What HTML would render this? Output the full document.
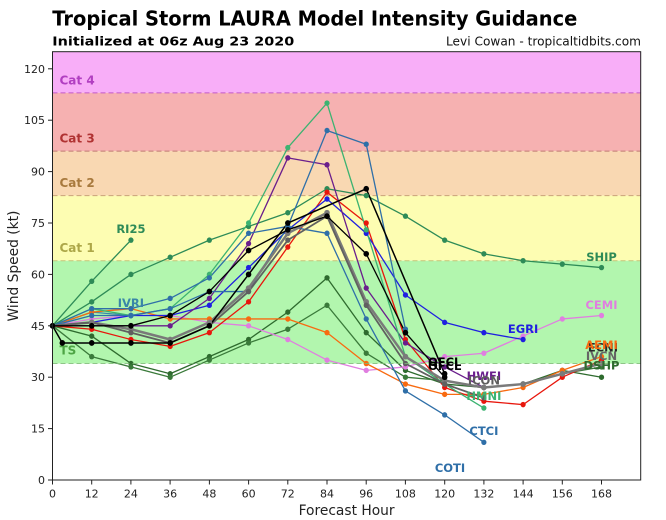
<!DOCTYPE html>
<html><head><meta charset="utf-8"><style>
html,body{margin:0;padding:0;background:#fff;}
svg{display:block;font-family:"DejaVu Sans","Liberation Sans",sans-serif;}
.sl{font-weight:bold;font-size:11.5px;text-anchor:middle;}
.tk{font-size:11px;}
</style></head><body>
<svg width="666" height="520" viewBox="0 0 666 520" xmlns="http://www.w3.org/2000/svg">
<rect x="0" y="0" width="666" height="520" fill="#fff"/>
<!-- bands -->
<rect x="52.5" y="51.7" width="588.2" height="41.12" fill="#f8aef8"/>
<rect x="52.5" y="92.82" width="588.2" height="58.25" fill="#f6b1b1"/>
<rect x="52.5" y="151.07" width="588.2" height="44.54" fill="#f9d8b2"/>
<rect x="52.5" y="195.61" width="588.2" height="65.1" fill="#fdfdb2"/>
<rect x="52.5" y="260.71" width="588.2" height="102.79" fill="#b2f6ae"/>
<g stroke-width="1" stroke-dasharray="5,3" fill="none">
<line x1="52.5" x2="640.7" y1="92.82" y2="92.82" stroke="#c25ac8"/>
<line x1="52.5" x2="640.7" y1="151.07" y2="151.07" stroke="#c07a74"/>
<line x1="52.5" x2="640.7" y1="195.61" y2="195.61" stroke="#c9a47a"/>
<line x1="52.5" x2="640.7" y1="260.71" y2="260.71" stroke="#c4c47a"/>
</g>
<g font-weight="bold" font-size="12px">
<text x="59.5" y="84.3" fill="#b13fc1">Cat 4</text>
<text x="59.5" y="142.3" fill="#b03232">Cat 3</text>
<text x="59.5" y="186.8" fill="#a87a3e">Cat 2</text>
<text x="59.5" y="251.9" fill="#ada748">Cat 1</text>
<text x="59.5" y="354.7" fill="#4da444">TS</text>
</g>
<!-- data -->
<g transform="translate(52.5,480) scale(3.268,-3.4264)">
<g fill="none" stroke-linejoin="round">
<polyline vector-effect="non-scaling-stroke" stroke="#2e8b57" stroke-width="1.3" points="0,45 12,52 24,60 36,65 48,70 60,74 72,78 84,85 96,83 108,77 120,70 132,66 144,64 156,63 168,62"/>
<polyline vector-effect="non-scaling-stroke" stroke="#2e8b57" stroke-width="1.3" points="0,45 12,58 24,70"/>
<polyline vector-effect="non-scaling-stroke" stroke="#3a86a8" stroke-width="1.3" points="0,45 12,49 24,48"/>
<polyline vector-effect="non-scaling-stroke" stroke="#2e6b2e" stroke-width="1.3" points="0,45 12,42 24,34 36,31 48,36 60,41 72,49 84,59 96,43 108,32 120,28 132,27 144,28 156,32 168,30"/>
<polyline vector-effect="non-scaling-stroke" stroke="#3a7a3a" stroke-width="1.3" points="0,45 12,36 24,33 36,30 48,35 60,40 72,44 84,51 96,37 108,30 120,29 132,27 144,28 156,31 168,33"/>
<polyline vector-effect="non-scaling-stroke" stroke="#e07ee0" stroke-width="1.3" points="0,45 12,47 24,48 36,48 48,46 60,45 72,41 84,35 96,32 108,33 120,36 132,37 144,42 156,47 168,48"/>
<polyline vector-effect="non-scaling-stroke" stroke="#f86a10" stroke-width="1.3" points="0,45 12,49 24,50 36,47 48,47 60,47 72,47 84,43 96,34 108,28 120,25 132,25 144,27 156,32 168,36"/>
<polyline vector-effect="non-scaling-stroke" stroke="#e8160c" stroke-width="1.3" points="0,45 12,44 24,41 36,39 48,43 60,52 72,68 84,84 96,75 108,41 120,27 132,23 144,22 156,30 168,35"/>
<polyline vector-effect="non-scaling-stroke" stroke="#1f1fe0" stroke-width="1.3" points="0,45 12,46 24,48 36,48 48,51 60,62 72,73 84,82 96,72 108,54 120,46 132,43 144,41"/>
<polyline vector-effect="non-scaling-stroke" stroke="#6a1e8c" stroke-width="1.3" points="0,45 12,45 24,45 36,45 48,53 60,69 72,94 84,92 96,56 108,40 120,33 132,27"/>
<polyline vector-effect="non-scaling-stroke" stroke="#3cb371" stroke-width="1.3" points="0,45 12,50 24,48 36,50 48,60 60,75 72,97 84,110 96,73 108,36 120,28 132,21"/>
<polyline vector-effect="non-scaling-stroke" stroke="#2f6fa8" stroke-width="1.3" points="0,45 12,50 24,50 36,53 48,59 60,72 72,74 84,102 96,98 108,44"/>
<polyline vector-effect="non-scaling-stroke" stroke="#2f6fa8" stroke-width="1.3" points="0,45 12,48 24,48 36,50 48,55 60,55 72,74 84,72 96,47 108,26 120,19 132,11"/>
<polyline vector-effect="non-scaling-stroke" stroke="#7a7a7a" stroke-width="2.5" points="0,45 12,46 24,44 36,41 48,46 60,56 72,72 84,78 96,52 108,36 120,29 132,27 144,28 156,31 168,34"/>
<polyline vector-effect="non-scaling-stroke" stroke="#606060" stroke-width="1.8" points="0,45 12,46 24,43 36,40 48,45 60,55 72,70 84,77 96,51 108,34 120,28 132,24"/>
<polyline vector-effect="non-scaling-stroke" stroke="#000" stroke-width="1.3" points="0,45 12,45 24,45 36,48 48,55 60,67 72,73 84,77 96,66 108,43 120,30"/>
<polyline vector-effect="non-scaling-stroke" stroke="#000" stroke-width="1.5" points="0,45 3,40 12,40 24,40 36,40 48,45 60,60 72,75 96,85 120,31"/>
</g>
<g fill="#2e8b57">
<circle cx="0" cy="45" r="0.8"/><circle cx="12" cy="52" r="0.8"/><circle cx="24" cy="60" r="0.8"/><circle cx="36" cy="65" r="0.8"/><circle cx="48" cy="70" r="0.8"/><circle cx="60" cy="74" r="0.8"/><circle cx="72" cy="78" r="0.8"/><circle cx="84" cy="85" r="0.8"/><circle cx="96" cy="83" r="0.8"/><circle cx="108" cy="77" r="0.8"/><circle cx="120" cy="70" r="0.8"/><circle cx="132" cy="66" r="0.8"/><circle cx="144" cy="64" r="0.8"/><circle cx="156" cy="63" r="0.8"/><circle cx="168" cy="62" r="0.8"/>
<circle cx="12" cy="58" r="0.8"/><circle cx="24" cy="70" r="0.8"/>
</g>
<g fill="#3a86a8"><circle cx="12" cy="49" r="0.8"/><circle cx="24" cy="48" r="0.8"/></g>
<g fill="#2e6b2e">
<circle cx="12" cy="42" r="0.8"/><circle cx="24" cy="34" r="0.8"/><circle cx="36" cy="31" r="0.8"/><circle cx="48" cy="36" r="0.8"/><circle cx="60" cy="41" r="0.8"/><circle cx="72" cy="49" r="0.8"/><circle cx="84" cy="59" r="0.8"/><circle cx="96" cy="43" r="0.8"/><circle cx="108" cy="32" r="0.8"/><circle cx="120" cy="28" r="0.8"/><circle cx="132" cy="27" r="0.8"/><circle cx="144" cy="28" r="0.8"/><circle cx="156" cy="32" r="0.8"/><circle cx="168" cy="30" r="0.8"/>
</g>
<g fill="#3a7a3a">
<circle cx="12" cy="36" r="0.8"/><circle cx="24" cy="33" r="0.8"/><circle cx="36" cy="30" r="0.8"/><circle cx="48" cy="35" r="0.8"/><circle cx="60" cy="40" r="0.8"/><circle cx="72" cy="44" r="0.8"/><circle cx="84" cy="51" r="0.8"/><circle cx="96" cy="37" r="0.8"/><circle cx="108" cy="30" r="0.8"/><circle cx="120" cy="29" r="0.8"/><circle cx="132" cy="27" r="0.8"/><circle cx="144" cy="28" r="0.8"/><circle cx="156" cy="31" r="0.8"/><circle cx="168" cy="33" r="0.8"/>
</g>
<g fill="#e07ee0">
<circle cx="12" cy="47" r="0.8"/><circle cx="24" cy="48" r="0.8"/><circle cx="36" cy="48" r="0.8"/><circle cx="48" cy="46" r="0.8"/><circle cx="60" cy="45" r="0.8"/><circle cx="72" cy="41" r="0.8"/><circle cx="84" cy="35" r="0.8"/><circle cx="96" cy="32" r="0.8"/><circle cx="108" cy="33" r="0.8"/><circle cx="120" cy="36" r="0.8"/><circle cx="132" cy="37" r="0.8"/><circle cx="144" cy="42" r="0.8"/><circle cx="156" cy="47" r="0.8"/><circle cx="168" cy="48" r="0.8"/>
</g>
<g fill="#f86a10">
<circle cx="12" cy="49" r="0.8"/><circle cx="24" cy="50" r="0.8"/><circle cx="36" cy="47" r="0.8"/><circle cx="48" cy="47" r="0.8"/><circle cx="60" cy="47" r="0.8"/><circle cx="72" cy="47" r="0.8"/><circle cx="84" cy="43" r="0.8"/><circle cx="96" cy="34" r="0.8"/><circle cx="108" cy="28" r="0.8"/><circle cx="120" cy="25" r="0.8"/><circle cx="132" cy="25" r="0.8"/><circle cx="144" cy="27" r="0.8"/><circle cx="156" cy="32" r="0.8"/><circle cx="168" cy="36" r="0.8"/>
</g>
<g fill="#e8160c">
<circle cx="12" cy="44" r="0.8"/><circle cx="24" cy="41" r="0.8"/><circle cx="36" cy="39" r="0.8"/><circle cx="48" cy="43" r="0.8"/><circle cx="60" cy="52" r="0.8"/><circle cx="72" cy="68" r="0.8"/><circle cx="84" cy="84" r="0.8"/><circle cx="96" cy="75" r="0.8"/><circle cx="108" cy="41" r="0.8"/><circle cx="120" cy="27" r="0.8"/><circle cx="132" cy="23" r="0.8"/><circle cx="144" cy="22" r="0.8"/><circle cx="156" cy="30" r="0.8"/><circle cx="168" cy="35" r="0.8"/>
</g>
<g fill="#1f1fe0">
<circle cx="12" cy="46" r="0.8"/><circle cx="24" cy="48" r="0.8"/><circle cx="36" cy="48" r="0.8"/><circle cx="48" cy="51" r="0.8"/><circle cx="60" cy="62" r="0.8"/><circle cx="72" cy="73" r="0.8"/><circle cx="84" cy="82" r="0.8"/><circle cx="96" cy="72" r="0.8"/><circle cx="108" cy="54" r="0.8"/><circle cx="120" cy="46" r="0.8"/><circle cx="132" cy="43" r="0.8"/><circle cx="144" cy="41" r="0.8"/>
</g>
<g fill="#6a1e8c">
<circle cx="12" cy="45" r="0.8"/><circle cx="24" cy="45" r="0.8"/><circle cx="36" cy="45" r="0.8"/><circle cx="48" cy="53" r="0.8"/><circle cx="60" cy="69" r="0.8"/><circle cx="72" cy="94" r="0.8"/><circle cx="84" cy="92" r="0.8"/><circle cx="96" cy="56" r="0.8"/><circle cx="108" cy="40" r="0.8"/><circle cx="120" cy="33" r="0.8"/><circle cx="132" cy="27" r="0.8"/>
</g>
<g fill="#3cb371">
<circle cx="12" cy="50" r="0.8"/><circle cx="24" cy="48" r="0.8"/><circle cx="36" cy="50" r="0.8"/><circle cx="48" cy="60" r="0.8"/><circle cx="60" cy="75" r="0.8"/><circle cx="72" cy="97" r="0.8"/><circle cx="84" cy="110" r="0.8"/><circle cx="96" cy="73" r="0.8"/><circle cx="108" cy="36" r="0.8"/><circle cx="120" cy="28" r="0.8"/><circle cx="132" cy="21" r="0.8"/>
</g>
<g fill="#2f6fa8">
<circle cx="12" cy="50" r="0.8"/><circle cx="24" cy="50" r="0.8"/><circle cx="36" cy="53" r="0.8"/><circle cx="48" cy="59" r="0.8"/><circle cx="60" cy="72" r="0.8"/><circle cx="72" cy="74" r="0.8"/><circle cx="84" cy="102" r="0.8"/><circle cx="96" cy="98" r="0.8"/><circle cx="108" cy="44" r="0.8"/>
<circle cx="12" cy="48" r="0.8"/><circle cx="24" cy="48" r="0.8"/><circle cx="36" cy="50" r="0.8"/><circle cx="48" cy="55" r="0.8"/><circle cx="60" cy="55" r="0.8"/><circle cx="84" cy="72" r="0.8"/><circle cx="96" cy="47" r="0.8"/><circle cx="108" cy="26" r="0.8"/><circle cx="120" cy="19" r="0.8"/><circle cx="132" cy="11" r="0.8"/>
</g>
<g fill="#7a7a7a">
<circle cx="12" cy="46" r="0.85"/><circle cx="24" cy="44" r="0.85"/><circle cx="36" cy="41" r="0.85"/><circle cx="48" cy="46" r="0.85"/><circle cx="60" cy="56" r="0.85"/><circle cx="72" cy="72" r="0.85"/><circle cx="84" cy="78" r="0.85"/><circle cx="96" cy="52" r="0.85"/><circle cx="108" cy="36" r="0.85"/><circle cx="120" cy="29" r="0.85"/><circle cx="132" cy="27" r="0.85"/><circle cx="144" cy="28" r="0.85"/><circle cx="156" cy="31" r="0.85"/><circle cx="168" cy="34" r="0.85"/>
</g>
<g fill="#606060">
<circle cx="24" cy="43" r="0.8"/><circle cx="36" cy="40" r="0.8"/><circle cx="48" cy="45" r="0.8"/><circle cx="60" cy="55" r="0.8"/><circle cx="72" cy="70" r="0.8"/><circle cx="84" cy="77" r="0.8"/><circle cx="96" cy="51" r="0.8"/><circle cx="108" cy="34" r="0.8"/><circle cx="120" cy="28" r="0.8"/><circle cx="132" cy="24" r="0.8"/>
</g>
<g fill="#000">
<circle cx="0" cy="45" r="0.85"/><circle cx="12" cy="45" r="0.85"/><circle cx="24" cy="45" r="0.85"/><circle cx="36" cy="48" r="0.85"/><circle cx="48" cy="55" r="0.85"/><circle cx="60" cy="67" r="0.85"/><circle cx="72" cy="73" r="0.85"/><circle cx="84" cy="77" r="0.85"/><circle cx="96" cy="66" r="0.85"/><circle cx="108" cy="43" r="0.85"/><circle cx="120" cy="30" r="0.85"/>
<circle cx="3" cy="40" r="0.85"/><circle cx="12" cy="40" r="0.85"/><circle cx="24" cy="40" r="0.85"/><circle cx="36" cy="40" r="0.85"/><circle cx="48" cy="45" r="0.85"/><circle cx="60" cy="60" r="0.85"/><circle cx="72" cy="75" r="0.85"/><circle cx="96" cy="85" r="0.85"/><circle cx="120" cy="31" r="0.85"/>
</g>
</g>
<line x1="52.5" x2="640.7" y1="363.5" y2="363.5" stroke="#7cba74" stroke-width="1" stroke-dasharray="5,3" opacity="0.8"/>
<!-- series labels -->
<text class="sl" x="130.9" y="233.2" fill="#2e8b57">RI25</text>
<text class="sl" x="130.9" y="307.2" fill="#3a86a8">IVRI</text>
<text class="sl" x="601.5" y="261.2" fill="#2e8b57">SHIP</text>
<text class="sl" x="601.5" y="309.2" fill="#e07ee0">CEMI</text>
<text class="sl" x="523.1" y="333.2" fill="#1f1fe0">EGRI</text>
<text class="sl" x="603" y="351.7" fill="#2a2a2a">ECNI</text>
<text class="sl" x="601.5" y="349.2" fill="#f86a10">AEMI</text>
<text class="sl" x="601.5" y="359.9" fill="#666">IVCN</text>
<text class="sl" x="601.5" y="369.7" fill="#2e6b2e">DSHP</text>
<text class="sl" x="444.7" y="366.2" fill="#000">OFCL</text>
<text class="sl" x="444.7" y="370.2" fill="#000">OFCL</text>
<text class="sl" x="483.9" y="379.9" fill="#6a1e8c">HWFI</text>
<text class="sl" x="483.9" y="384.7" fill="#5e5e5e">ICON</text>
<text class="sl" x="483.9" y="400.2" fill="#3cb371">HMNI</text>
<text class="sl" x="483.9" y="435.2" fill="#2f6fa8">CTCI</text>
<text class="sl" x="450" y="472.2" fill="#2f6fa8">COTI</text>
<!-- frame -->
<rect x="52.5" y="51.7" width="588.2" height="428.3" fill="none" stroke="#222" stroke-width="1"/>
<!-- ticks -->
<g stroke="#222" stroke-width="1">
<line x1="48" x2="52.5" y1="480" y2="480"/><line x1="48" x2="52.5" y1="428.6" y2="428.6"/><line x1="48" x2="52.5" y1="377.2" y2="377.2"/><line x1="48" x2="52.5" y1="325.8" y2="325.8"/><line x1="48" x2="52.5" y1="274.4" y2="274.4"/><line x1="48" x2="52.5" y1="223" y2="223"/><line x1="48" x2="52.5" y1="171.6" y2="171.6"/><line x1="48" x2="52.5" y1="120.2" y2="120.2"/><line x1="48" x2="52.5" y1="68.8" y2="68.8"/>
<line y1="480" y2="484.5" x1="52.5" x2="52.5"/><line y1="480" y2="484.5" x1="91.7" x2="91.7"/><line y1="480" y2="484.5" x1="130.9" x2="130.9"/><line y1="480" y2="484.5" x1="170.1" x2="170.1"/><line y1="480" y2="484.5" x1="209.4" x2="209.4"/><line y1="480" y2="484.5" x1="248.6" x2="248.6"/><line y1="480" y2="484.5" x1="287.8" x2="287.8"/><line y1="480" y2="484.5" x1="327" x2="327"/><line y1="480" y2="484.5" x1="366.2" x2="366.2"/><line y1="480" y2="484.5" x1="405.4" x2="405.4"/><line y1="480" y2="484.5" x1="444.7" x2="444.7"/><line y1="480" y2="484.5" x1="483.9" x2="483.9"/><line y1="480" y2="484.5" x1="523.1" x2="523.1"/><line y1="480" y2="484.5" x1="562.3" x2="562.3"/><line y1="480" y2="484.5" x1="601.5" x2="601.5"/>
</g>
<g class="tk" fill="#222" text-anchor="end">
<text x="45" y="484">0</text><text x="45" y="432.6">15</text><text x="45" y="381.2">30</text><text x="45" y="329.8">45</text><text x="45" y="278.4">60</text><text x="45" y="227">75</text><text x="45" y="175.6">90</text><text x="45" y="124.2">105</text><text x="45" y="72.8">120</text>
</g>
<g class="tk" fill="#222" text-anchor="middle">
<text x="52.5" y="497.7">0</text><text x="91.7" y="497.7">12</text><text x="130.9" y="497.7">24</text><text x="170.1" y="497.7">36</text><text x="209.4" y="497.7">48</text><text x="248.6" y="497.7">60</text><text x="287.8" y="497.7">72</text><text x="327" y="497.7">84</text><text x="366.2" y="497.7">96</text><text x="405.4" y="497.7">108</text><text x="444.7" y="497.7">120</text><text x="483.9" y="497.7">132</text><text x="523.1" y="497.7">144</text><text x="562.3" y="497.7">156</text><text x="601.5" y="497.7">168</text>
</g>
<text x="346.6" y="515" font-size="13.8px" text-anchor="middle" fill="#222">Forecast Hour</text>
<text transform="translate(18,266) rotate(-90)" font-size="13.8px" text-anchor="middle" fill="#222">Wind Speed (kt)</text>
<!-- titles -->
<text x="52.3" y="25.3" font-size="20.5px" font-weight="bold" fill="#000" textLength="525" lengthAdjust="spacingAndGlyphs">Tropical Storm LAURA Model Intensity Guidance</text>
<text x="52.3" y="45.7" font-size="12.2px" font-weight="bold" fill="#000" textLength="242" lengthAdjust="spacingAndGlyphs">Initialized at 06z Aug 23 2020</text>
<text x="446" y="45.7" font-size="12px" fill="#111" textLength="195" lengthAdjust="spacingAndGlyphs">Levi Cowan - tropicaltidbits.com</text>
</svg>
</body></html>
